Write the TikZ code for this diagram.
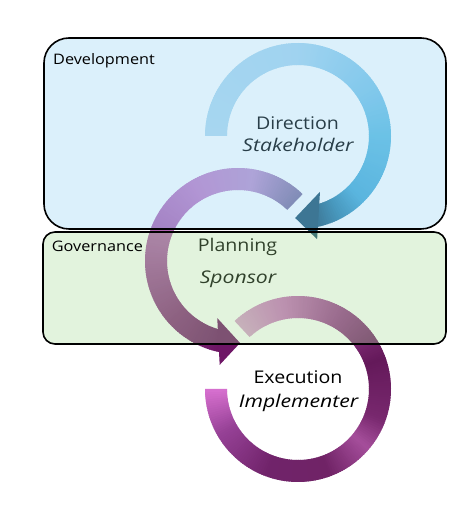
\documentclass[tikz,border=0pt]{standalone}
\usepackage{fontspec}
\setmainfont{Open Sans}
\newfontfamily\uprfont{Open Sans}[FakeStretch=1.12]
\newfontfamily\itfont{Open Sans}[FakeStretch=1.21]
\usetikzlibrary{calc}

% gradient annular arc: cx, cy, angle a, angle b, colour A, colour B, inner r, outer r
\newcommand\gradarc[8]{%
  \pgfmathtruncatemacro\gsteps{max(1,round(abs(#4-#3)/1.5))}%
  \pgfmathsetmacro\gdir{(#4>#3)?1:-1}%
  \foreach \gi in {1,...,\gsteps} {%
    \pgfmathsetmacro\gta{#3+(#4-#3)*(\gi-1)/\gsteps}%
    \pgfmathsetmacro\gtb{#3+(#4-#3)*\gi/\gsteps+0.6*\gdir}%
    \pgfmathsetmacro\gp{100*(\gi-0.5)/\gsteps}%
    \colorlet{gsegc}{#6!\gp!#5}%
    \fill[gsegc, shift={(#1,#2)}] (\gta:#8) arc[start angle=\gta, end angle=\gtb, radius=#8]
      -- (\gtb:#7) arc[start angle=\gtb, end angle=\gta, radius=#7] -- cycle;
  }%
}

% arc 1 (blue)
\definecolor{b0}{RGB}{180,218,240}
\definecolor{b1}{RGB}{170,213,240}
\definecolor{b2}{RGB}{125,197,233}
\definecolor{b3}{RGB}{95,188,226}
\definecolor{b4}{RGB}{70,170,215}
\definecolor{b5}{RGB}{45,130,170}
\definecolor{b6}{RGB}{30,88,118}
\definecolor{bhead}{RGB}{28,80,108}
% arc 2 (violet)
\definecolor{p0}{RGB}{125,112,158}
\definecolor{p1}{RGB}{190,145,205}
\definecolor{p2}{RGB}{195,125,200}
\definecolor{p3}{RGB}{170,90,170}
\definecolor{p4}{RGB}{135,48,125}
\definecolor{p5}{RGB}{108,22,100}
\definecolor{phead}{RGB}{110,22,102}
% arc 3 (purple)
\definecolor{e0}{RGB}{215,160,205}
\definecolor{e1}{RGB}{200,115,190}
\definecolor{e2}{RGB}{150,60,140}
\definecolor{e3}{RGB}{100,25,90}
\definecolor{e4}{RGB}{120,40,110}
\definecolor{e5}{RGB}{165,78,155}
\definecolor{e6}{RGB}{112,35,102}
\definecolor{e7}{RGB}{112,35,106}
\definecolor{e8}{RGB}{150,65,150}
\definecolor{e9}{RGB}{215,112,207}
% boxes
\definecolor{devfill}{RGB}{138,208,242}
\definecolor{govfill}{RGB}{162,218,145}

\tikzset{
  arctext/.style={font=\uprfont\fontsize{17.5}{20}\selectfont, text=black, inner sep=0pt, anchor=base},
  arcital/.style={font=\itfont\itshape\fontsize{17.5}{20}\selectfont, text=black, inner sep=0pt, anchor=base},
  boxlabel/.style={font=\uprfont\fontsize{14.5}{17}\selectfont, text=black, inner sep=0pt, anchor=base west},
  boxline/.style={line width=1.6pt, draw=black},
}

\begin{document}
\begin{tikzpicture}[x=1pt,y=1pt]
\useasboundingbox (0,0) rectangle (474,508);
\fill[white] (0,0) rectangle (474,508);

% ---- arc 1 : Direction
\gradarc{298}{372}{180}{90}{b0}{b1}{71pt}{93pt}
\gradarc{298}{372}{90}{30}{b1}{b2}{71pt}{93pt}
\gradarc{298}{372}{30}{0}{b2}{b3}{71pt}{93pt}
\gradarc{298}{372}{0}{-45}{b3}{b4}{71pt}{93pt}
\gradarc{298}{372}{-45}{-62}{b4}{b5}{71pt}{93pt}
\gradarc{298}{372}{-62}{-77}{b5}{b6}{71pt}{93pt}
\fill[bhead, shift={(298,372)}] (-68.5:60pt) -- (-92:82pt) -- (-79.5:105pt) -- cycle;

% ---- arc 2 : Planning
\gradarc{238}{247}{46}{80}{p0}{p1}{71pt}{93pt}
\gradarc{238}{247}{80}{120}{p1}{p2}{71pt}{93pt}
\gradarc{238}{247}{120}{170}{p2}{p3}{71pt}{93pt}
\gradarc{238}{247}{170}{220}{p3}{p4}{71pt}{93pt}
\gradarc{238}{247}{220}{258}{p4}{p5}{71pt}{93pt}
\fill[phead, shift={(238,247)}] (250:60.7pt) -- (271.4:82pt) -- (260:105.5pt) -- cycle;

% ---- arc 3 : Execution
\gradarc{298}{119}{133}{100}{e0}{e1}{71pt}{93pt}
\gradarc{298}{119}{100}{60}{e1}{e2}{71pt}{93pt}
\gradarc{298}{119}{60}{20}{e2}{e3}{71pt}{93pt}
\gradarc{298}{119}{20}{-20}{e3}{e4}{71pt}{93pt}
\gradarc{298}{119}{-20}{-40}{e4}{e5}{71pt}{93pt}
\gradarc{298}{119}{-40}{-70}{e5}{e6}{71pt}{93pt}
\gradarc{298}{119}{-70}{-110}{e6}{e7}{71pt}{93pt}
\gradarc{298}{119}{-110}{-150}{e7}{e8}{71pt}{93pt}
\gradarc{298}{119}{-150}{-179.4}{e8}{e9}{71pt}{93pt}

% ---- texts inside the cycles
\node[arctext] (dir) at (297.5,378) {Direction};
\node[arcital] (stk) at (298,356.3) {Stakeholder};
\node[arctext] (pla) at (237.5,256.3) {Planning};
\node[arcital] (spo) at (238,224) {Sponsor};
\node[arctext] (exe) at (298,124.7) {Execution};
\node[arcital] (imp) at (298.5,100.7) {Implementer};

% ---- boxes
\fill[devfill, fill opacity=0.3, rounded corners=25pt] (44,279) rectangle (446,470);
\draw[boxline, rounded corners=25pt] (44,279) rectangle (446,470);
\fill[govfill, fill opacity=0.3, rounded corners=12pt] (43,164) rectangle (446,276);
\draw[boxline, rounded corners=12pt] (43,164) rectangle (446,276);

\node[boxlabel] (dev) at (53,443) {Development};
\node[boxlabel] (gov) at (51.7,256.3) {Governance};
\end{tikzpicture}
\end{document}
